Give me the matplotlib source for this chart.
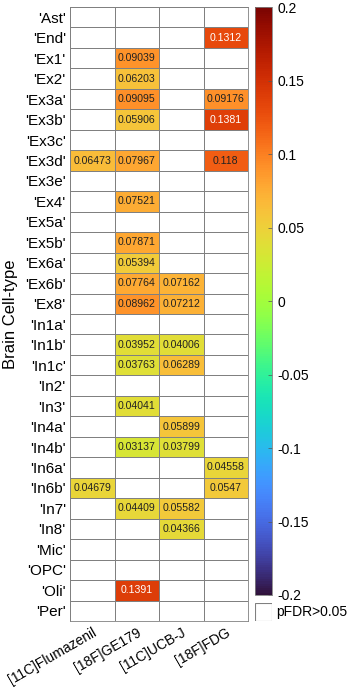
import matplotlib
import numpy as np

matplotlib.use("Agg")
import matplotlib.pyplot as plt
import matplotlib.transforms as mtransforms
from matplotlib.patches import Rectangle

cell_types = ["'Ast'", "'End'", "'Ex1'", "'Ex2'", "'Ex3a'", "'Ex3b'", "'Ex3c'",
              "'Ex3d'", "'Ex3e'", "'Ex4'", "'Ex5a'", "'Ex5b'", "'Ex6a'", "'Ex6b'",
              "'Ex8'", "'In1a'", "'In1b'", "'In1c'", "'In2'", "'In3'", "'In4a'",
              "'In4b'", "'In6a'", "'In6b'", "'In7'", "'In8'", "'Mic'", "'OPC'",
              "'Oli'", "'Per'"]
tracers = ["[11C]Flumazenil", "[18F]GE179", "[11C]UCB-J", "[18F]FDG"]

nan = np.nan
# one list per tracer, NaN = pFDR>0.05
flumazenil = [nan, nan, nan, nan, nan, nan, nan, 0.06473, nan, nan, nan, nan, nan, nan,
              nan, nan, nan, nan, nan, nan, nan, nan, nan, 0.04679, nan, nan, nan, nan,
              nan, nan]
ge179 = [nan, nan, 0.09039, 0.06203, 0.09095, 0.05906, nan, 0.07967, nan, 0.07521, nan,
         0.07871, 0.05394, 0.07764, 0.08962, nan, 0.03952, 0.03763, nan, 0.04041, nan,
         0.03137, nan, nan, 0.04409, nan, nan, nan, 0.1391, nan]
ucbj = [nan, nan, nan, nan, nan, nan, nan, nan, nan, nan, nan, nan, nan, 0.07162,
        0.07212, nan, 0.04006, 0.06289, nan, nan, 0.05899, 0.03799, nan, nan, 0.05582,
        0.04366, nan, nan, nan, nan]
fdg = [nan, 0.1312, nan, nan, 0.09176, 0.1381, nan, 0.118, nan, nan, nan, nan, nan, nan,
       nan, nan, nan, nan, nan, nan, nan, nan, 0.04558, 0.0547, nan, nan, nan, nan,
       nan, nan]

plt.rcParams["font.family"] = ["Liberation Sans", "DejaVu Sans"]

W, H = 357, 695
fig = plt.figure(figsize=(W / 100, H / 100), dpi=100)

data = np.array([flumazenil, ge179, ucbj, fdg]).T
vals = np.ma.masked_invalid(data)
cmap = plt.get_cmap("turbo").copy()
cmap.set_bad("white")

ax = fig.add_axes([70 / W, 1 - 621 / H, 178 / W, 614 / H])
mesh = ax.pcolormesh(vals, cmap=cmap, vmin=-0.2, vmax=0.2,
                     edgecolors="#808080", linewidth=0.6)
ax.set_xlim(0, len(tracers))
ax.set_ylim(len(cell_types), 0)
nrow = len(cell_types)
for i in range(nrow):
    for j in range(len(tracers)):
        v = data[i, j]
        if np.isnan(v):
            continue
        ax.text(j + 0.5, i + 0.5, f"{v:.4g}", ha="center", va="center",
                fontsize=7.6, color="white" if v > 0.125 else "#222222")

ax.set_yticks(np.arange(nrow) + 0.5)
ax.set_yticklabels(cell_types, fontsize=11)
ax.set_xticks(np.arange(len(tracers)) + 0.5)
ax.set_xticklabels(tracers, fontsize=10, rotation=30, ha="right", va="top",
                   rotation_mode="anchor")
# shift the rotated labels a little right, like the reference
shift = mtransforms.ScaledTranslation(7 / 100, 0, fig.dpi_scale_trans)
for lab in ax.get_xticklabels():
    lab.set_transform(lab.get_transform() + shift)
ax.tick_params(length=0, pad=3)
for s in ax.spines.values():
    s.set_color("#808080")
    s.set_linewidth(0.6)
ax.set_ylabel("Brain Cell-type", fontsize=12)
ax.yaxis.set_label_coords(-0.29, 0.5)

# colorbar
cax = fig.add_axes([255 / W, 1 - 595 / H, 17 / W, 588 / H])
cb = fig.colorbar(mesh, cax=cax, ticks=np.arange(-0.2, 0.201, 0.05))
cb.ax.set_yticklabels(["-0.2", "-0.15", "-0.1", "-0.05", "0", "0.05", "0.1",
                       "0.15", "0.2"])
cb.ax.tick_params(direction="in", length=3, width=0.5, labelsize=10, color="#555555",
                  pad=4)
cb.outline.set_edgecolor("#808080")
cb.outline.set_linewidth(0.6)

# legend box for non-significant cells
lax = fig.add_axes([255 / W, 1 - 621 / H, 17 / W, 18 / H])
lax.set_axis_off()
lax.add_patch(Rectangle((0, 0), 1, 1, transform=lax.transAxes, facecolor="white",
                        edgecolor="#808080", linewidth=0.8))
fig.text(276 / W, 1 - 612 / H, "pFDR>0.05", fontsize=10, va="center", ha="left")

fig.savefig("out.png", dpi=100)
plt.close(fig)
